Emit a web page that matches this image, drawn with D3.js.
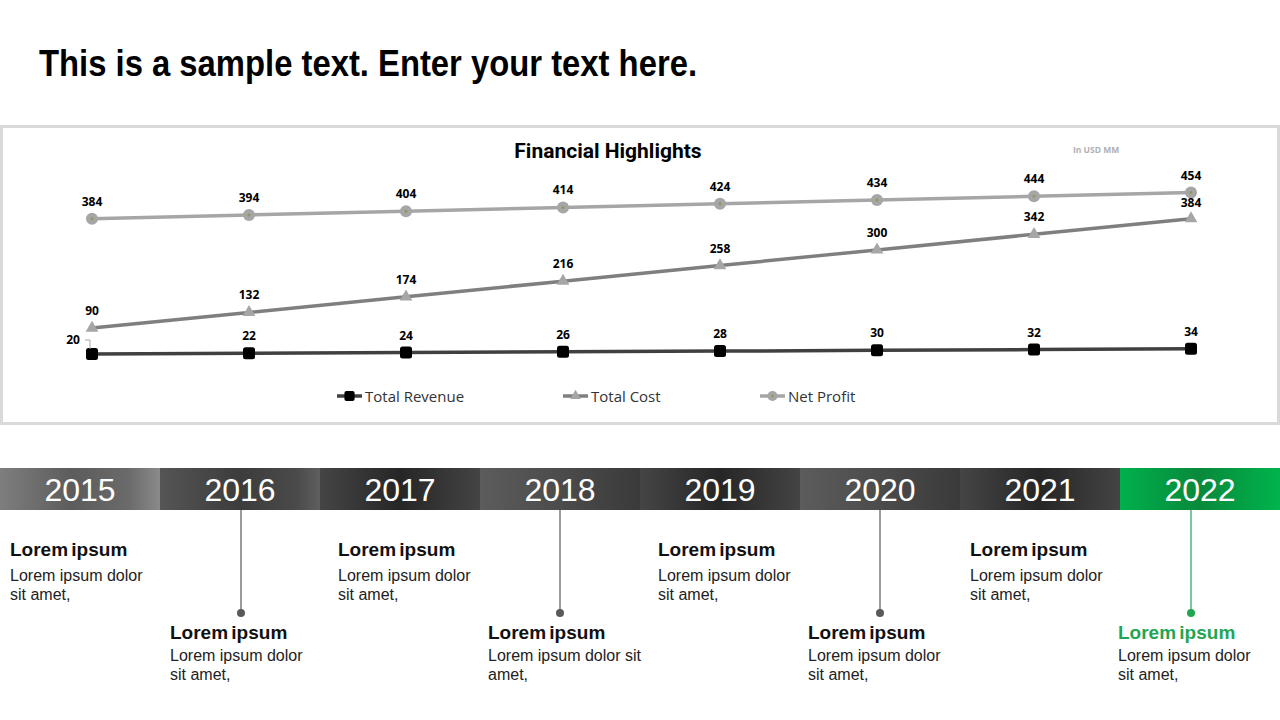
<!DOCTYPE html>
<html>
<head>
<meta charset="utf-8">
<script src="https://cdn.jsdelivr.net/npm/d3@7"></script>
<style>
  body { margin: 0; background: #fff; }
  svg { display: block; }
</style>
</head>
<body>
<div id="viz-container"></div>
<script>
// chart data
let years = ["2015", "2016", "2017", "2018", "2019", "2020", "2021", "2022"];
let totalRevenue = [20, 22, 24, 26, 28, 30, 32, 34];
let totalCost = [90, 132, 174, 216, 258, 300, 342, 384];
let netProfit = [384, 394, 404, 414, 424, 434, 444, 454];
let seriesNames = ["Total Revenue", "Total Cost", "Net Profit"];

// timeline text
let headings = ["Lorem ipsum", "Lorem ipsum", "Lorem ipsum", "Lorem ipsum", "Lorem ipsum", "Lorem ipsum", "Lorem ipsum", "Lorem ipsum"];
let bodies = [
  ["Lorem ipsum dolor", "sit amet,"],
  ["Lorem ipsum dolor", "sit amet,"],
  ["Lorem ipsum dolor", "sit amet,"],
  ["Lorem ipsum dolor sit", "amet,"],
  ["Lorem ipsum dolor", "sit amet,"],
  ["Lorem ipsum dolor", "sit amet,"],
  ["Lorem ipsum dolor", "sit amet,"],
  ["Lorem ipsum dolor", "sit amet,"]
];

let viz = d3.select("#viz-container")
  .append("svg")
    .attr("width", 1280)
    .attr("height", 720);

let defs = viz.append("defs");

// gradients for the year bars
function makeGrad(id, stops){
  let g = defs.append("linearGradient").attr("id", id)
    .attr("x1", "0%").attr("x2", "100%").attr("y1", "0%").attr("y2", "0%");
  stops.forEach(s => g.append("stop").attr("offset", s[0]).attr("stop-color", s[1]));
}
makeGrad("g-light", [["0%", "#7e7e7e"], ["45%", "#5c5c5c"], ["80%", "#6a6a6a"], ["100%", "#8a8a8a"]]);
makeGrad("g-mid", [["0%", "#555555"], ["50%", "#3c3c3c"], ["85%", "#4a4a4a"], ["100%", "#5e5e5e"]]);
makeGrad("g-mid2", [["0%", "#5c5c5c"], ["55%", "#4a4a4a"], ["100%", "#3a3a3a"]]);
makeGrad("g-dark", [["0%", "#454545"], ["50%", "#262626"], ["100%", "#444444"]]);
makeGrad("g-green", [["0%", "#00b04c"], ["50%", "#08893b"], ["100%", "#00b44c"]]);
let barGrad = ["g-light", "g-mid", "g-dark", "g-mid2", "g-dark", "g-mid2", "g-dark", "g-green"];

// page title (condensed to match the narrow face)
viz.append("text")
  .attr("x", 39).attr("y", 76)
  .attr("font-family", "'Liberation Sans', Arial, sans-serif")
  .attr("font-weight", "bold")
  .attr("font-size", 36)
  .attr("fill", "#000")
  .attr("textLength", 658)
  .attr("lengthAdjust", "spacingAndGlyphs")
  .text("This is a sample text. Enter your text here.");

// chart frame
viz.append("rect")
  .attr("x", 1.5).attr("y", 126.5)
  .attr("width", 1277).attr("height", 297)
  .attr("fill", "#fff")
  .attr("stroke", "#d9d9d9")
  .attr("stroke-width", 3);

viz.append("text")
  .attr("x", 608).attr("y", 158)
  .attr("text-anchor", "middle")
  .attr("font-family", "Roboto, sans-serif")
  .attr("font-weight", "bold")
  .attr("font-size", 21)
  .attr("fill", "#000")
  .text("Financial Highlights");

viz.append("text")
  .attr("x", 1073).attr("y", 153)
  .attr("font-family", "'Open Sans', sans-serif")
  .attr("font-size", 8.5)
  .attr("font-weight", "bold")
  .attr("fill", "#b0b0b0")
  .text("In USD MM");

// scales
let x = d3.scalePoint().domain(years).range([92, 1191]);
let y = d3.scaleLinear().domain([0, 500]).range([361.5, 175.5]);

let series = [
  {name: seriesNames[0], values: totalRevenue, line: "#404040", marker: "square"},
  {name: seriesNames[1], values: totalCost, line: "#7f7f7f", marker: "triangle"},
  {name: seriesNames[2], values: netProfit, line: "#a6a6a6", marker: "circle"}
];

let lineGen = d3.line().x((d, i) => x(years[i])).y(d => y(d));

function drawMarker(sel, type){
  if (type == "square"){
    sel.append("rect")
      .attr("x", -6).attr("y", -6).attr("width", 12).attr("height", 12)
      .attr("rx", 2.5).attr("fill", "#000");
  } else if (type == "triangle"){
    sel.append("path")
      .attr("d", d3.symbol().type(d3.symbolTriangle).size(70))
      .attr("fill", "#a6a6a6");
  } else {
    sel.append("circle").attr("r", 6).attr("fill", "#a6a6a6");
    sel.append("circle").attr("r", 1.5).attr("fill", "#8f9a5a");
  }
}

series.forEach(s => {
  viz.append("path")
    .datum(s.values)
    .attr("d", lineGen)
    .attr("fill", "none")
    .attr("stroke", s.line)
    .attr("stroke-width", 3.5);
});

series.forEach(s => {
  let groups = viz.selectAll(".pt-" + s.marker).data(s.values)
    .enter().append("g")
      .attr("class", "pt-" + s.marker)
      .attr("transform", (d, i) => "translate(" + x(years[i]) + "," + y(d) + ")");
  groups.each(function(){ drawMarker(d3.select(this), s.marker); });
});

// data labels
function labelOffset(s, i){
  if (s.marker == "square" && i == 0) return [-19, -10];
  if (s.marker == "triangle" && i == 7) return [0, -12];
  return [0, -13];
}
series.forEach(s => {
  viz.selectAll(".lbl-" + s.marker).data(s.values)
    .enter().append("text")
      .attr("class", "lbl-" + s.marker)
      .attr("x", (d, i) => x(years[i]) + labelOffset(s, i)[0])
      .attr("y", (d, i) => y(d) + labelOffset(s, i)[1])
      .attr("text-anchor", "middle")
      .attr("font-family", "'Open Sans', sans-serif")
      .attr("font-weight", "bold")
      .attr("font-size", 12)
      .attr("fill", "#000")
      .text(d => d);
});
// leader line for the first revenue label
viz.append("path")
  .attr("d", "M" + (x(years[0]) - 7) + "," + (y(totalRevenue[0]) - 14) +
             " h5 v9")
  .attr("fill", "none")
  .attr("stroke", "#a6a6a6")
  .attr("stroke-width", 1);

// legend
let legendX = [337, 563, 760];
series.forEach((s, i) => {
  let g = viz.append("g").attr("transform", "translate(" + legendX[i] + ",396)");
  g.append("line").attr("x1", 0).attr("x2", 25).attr("y1", 0).attr("y2", 0)
    .attr("stroke", s.line).attr("stroke-width", 3.5);
  let m = g.append("g");
  drawMarker(m, s.marker);
  m.attr("transform", "translate(12.5,0) scale(0.85)");
  g.append("text")
    .attr("x", 28).attr("y", 5.5)
    .attr("font-family", "'Open Sans', sans-serif")
    .attr("font-size", 15)
    .attr("fill", "#333")
    .text(s.name);
});

// timeline bars
let band = d3.scaleBand().domain(years).range([0, 1280]);
viz.selectAll(".yearbar").data(years)
  .enter().append("rect")
    .attr("class", "yearbar")
    .attr("x", d => band(d))
    .attr("y", 468)
    .attr("width", band.bandwidth())
    .attr("height", 42)
    .attr("fill", (d, i) => "url(#" + barGrad[i] + ")");

viz.selectAll(".yearlbl").data(years)
  .enter().append("text")
    .attr("class", "yearlbl")
    .attr("x", d => band(d) + band.bandwidth() / 2)
    .attr("y", 501)
    .attr("text-anchor", "middle")
    .attr("font-family", "'Liberation Sans', Arial, sans-serif")
    .attr("font-size", 32)
    .attr("fill", "#fff")
    .text(d => d);

// timeline text blocks
let textX = [10, 170, 338, 488, 658, 808, 970, 1118];
let stemX = [null, 241, null, 560, null, 880, null, 1191];
years.forEach((yr, i) => {
  let low = i % 2 == 1;
  let green = i == 7;
  let col = green ? "#1fa653" : "#111";
  let top = low ? 639 : 556;
  let gap = low ? 22 : 25;
  if (low){
    let sc = green ? "#1fa653" : "#595959";
    viz.append("line")
      .attr("x1", stemX[i]).attr("x2", stemX[i])
      .attr("y1", 510).attr("y2", 613)
      .attr("stroke", sc).attr("stroke-width", 1.2);
    viz.append("circle")
      .attr("cx", stemX[i]).attr("cy", 613).attr("r", 4)
      .attr("fill", sc);
  }
  viz.append("text")
    .attr("x", textX[i]).attr("y", top)
    .attr("font-family", "'Liberation Sans', Arial, sans-serif")
    .attr("font-weight", "bold")
    .attr("font-size", 19)
    .attr("word-spacing", -2)
    .attr("fill", col)
    .text(headings[i]);
  bodies[i].forEach((line, j) => {
    viz.append("text")
      .attr("x", textX[i]).attr("y", top + gap + j * 19)
      .attr("font-family", "'Liberation Sans', Arial, sans-serif")
      .attr("font-size", 16)
      .attr("fill", "#222")
      .text(line);
  });
});
</script>
</body>
</html>
